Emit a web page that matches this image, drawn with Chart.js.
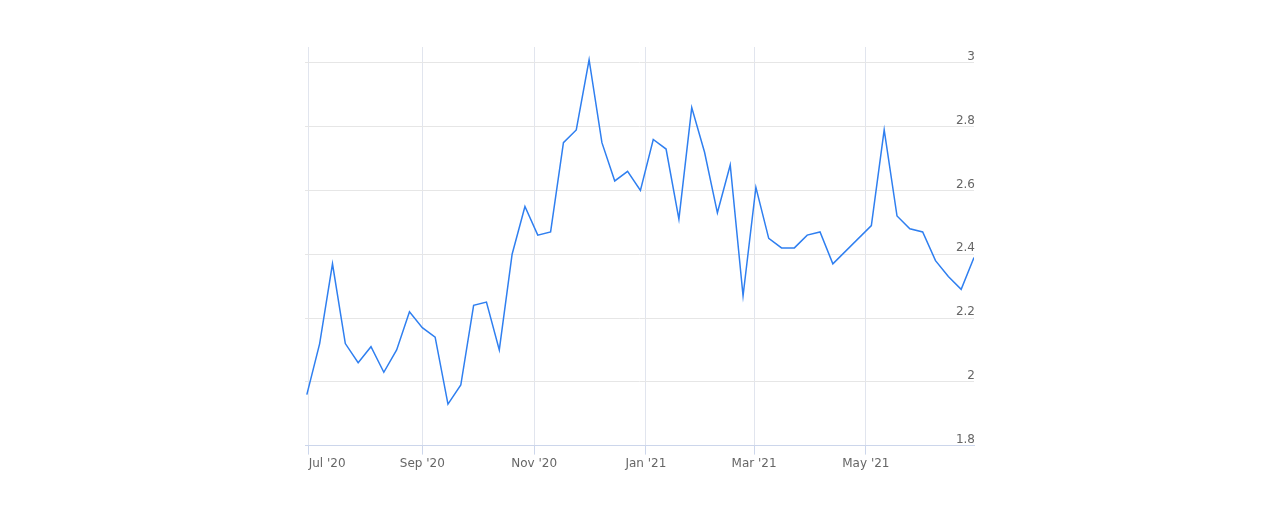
<!DOCTYPE html>
<html>
<head>
<meta charset="utf-8">
<script src="https://cdn.jsdelivr.net/npm/chart.js@4/dist/chart.umd.min.js"></script>
<style>
  html, body { margin: 0; padding: 0; background: #fff; }
  #wrap { width: 1279px; height: 513px; position: relative; }
</style>
</head>
<body>
<div id="wrap"><canvas id="rateChart"></canvas></div>
<script>
// weekly observations (two April weeks are absent in the source line)
const dates = [
  '2020-06-30', '2020-07-07', '2020-07-14', '2020-07-21', '2020-07-28',
  '2020-08-04', '2020-08-11', '2020-08-18', '2020-08-25', '2020-09-01',
  '2020-09-08', '2020-09-15', '2020-09-22', '2020-09-29', '2020-10-06',
  '2020-10-13', '2020-10-20', '2020-10-27', '2020-11-03', '2020-11-10',
  '2020-11-17', '2020-11-24', '2020-12-01', '2020-12-08', '2020-12-15',
  '2020-12-22', '2020-12-29', '2021-01-05', '2021-01-12', '2021-01-19',
  '2021-01-26', '2021-02-02', '2021-02-09', '2021-02-16', '2021-02-23',
  '2021-03-02', '2021-03-09', '2021-03-16', '2021-03-23', '2021-03-30',
  '2021-04-06', '2021-04-13', '2021-05-04', '2021-05-11', '2021-05-18',
  '2021-05-25', '2021-06-01', '2021-06-08', '2021-06-15', '2021-06-22',
  '2021-06-29'
];
const values = [
  1.96, 2.12, 2.37, 2.12, 2.06, 2.11, 2.03, 2.10, 2.22, 2.17,
  2.14, 1.93, 1.99, 2.24, 2.25, 2.10, 2.40, 2.55, 2.46, 2.47,
  2.75, 2.79, 3.01, 2.75, 2.63, 2.66, 2.60, 2.76, 2.73, 2.51,
  2.86, 2.72, 2.53, 2.68, 2.27, 2.61, 2.45, 2.42, 2.42, 2.46,
  2.47, 2.37, 2.49, 2.79, 2.52, 2.48, 2.47, 2.38, 2.33, 2.29,
  2.39
];
const tickDates = ['2020-07-01', '2020-09-01', '2020-11-01', '2021-01-01', '2021-03-01', '2021-05-01'];
const tickLabels = ["Jul '20", "Sep '20", "Nov '20", "Jan '21", "Mar '21", "May '21"];
const yTicks = [1.8, 2.0, 2.2, 2.4, 2.6, 2.8, 3.0];

const rangeStart = '2020-06-29';
const rangeEnd = '2021-06-29';

// days since epoch, so the x scale is linear in time
function toDay(s) {
    const p = s.split('-');
    return Date.UTC(+p[0], +p[1] - 1, +p[2]) / 864e5;
}

const points = dates.map((d, i) => ({ x: toDay(d), y: values[i] }));
const xMin = toDay(rangeStart);
const xMax = toDay(rangeEnd);

const font = { family: 'DejaVu Sans', size: 12 };

new Chart(document.getElementById('rateChart'), {
    type: 'line',
    data: {
        datasets: [{
            data: points,
            borderColor: '#2f7ff0',
            borderWidth: 1.5,
            pointRadius: 0,
            tension: 0,
            fill: false
        }]
    },
    options: {
        responsive: true,
        maintainAspectRatio: false,
        animation: false,
        layout: { padding: { left: 305, right: 303, top: 47, bottom: 40 } },
        plugins: { legend: { display: false }, tooltip: { enabled: false } },
        scales: {
            x: {
                type: 'linear',
                min: xMin,
                max: xMax,
                afterBuildTicks: function(scale) {
                    // month ticks plus an unlabeled stopper at the right edge
                    scale.ticks = tickDates.map(d => ({ value: toDay(d) }));
                    scale.ticks.push({ value: xMax });
                },
                ticks: {
                    align: 'inner',
                    maxRotation: 0,
                    autoSkip: false,
                    padding: 2,
                    color: '#666666',
                    font: font,
                    callback: function(value, index) {
                        return tickLabels[index] || '';
                    }
                },
                grid: {
                    color: ctx => ctx.index === tickDates.length ? 'rgba(0,0,0,0)' : '#e1e5ee',
                    tickColor: ctx => ctx.index === tickDates.length ? 'rgba(0,0,0,0)' : '#ccd6eb',
                    tickLength: 9,
                    lineWidth: 1
                },
                border: { display: true, color: '#ccd6eb', width: 1 }
            },
            y: {
                position: 'right',
                min: 1.8,
                max: 3.05,
                afterBuildTicks: function(scale) {
                    scale.ticks = yTicks.map(v => ({ value: v }));
                },
                ticks: {
                    mirror: true,
                    padding: 1,
                    labelOffset: -6,
                    color: '#666666',
                    font: font,
                    callback: v => String(Math.round(v * 10) / 10)
                },
                grid: {
                    color: ctx => (ctx.tick && ctx.tick.value === 1.8) ? 'rgba(0,0,0,0)' : '#e6e6e6',
                    drawTicks: false,
                    lineWidth: 1
                },
                border: { display: false }
            }
        }
    }
});
</script>
</body>
</html>
